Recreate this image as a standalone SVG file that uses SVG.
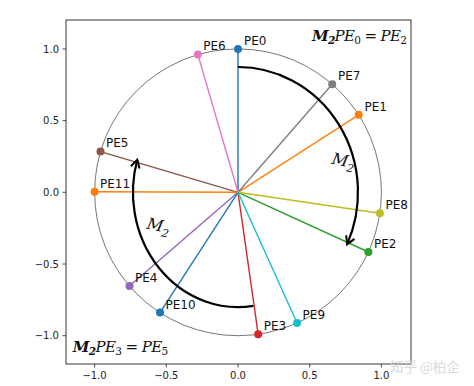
<svg xmlns="http://www.w3.org/2000/svg" width="474" height="386" viewBox="0 0 474 386">
<style>
.tick{font-family:"DejaVu Sans",sans-serif;font-size:10px;fill:#222}
.lbl{font-family:"DejaVu Sans",sans-serif;font-size:12px;fill:#111}
.spoke{stroke-width:1.4;fill:none}
.rot{stroke:#000;stroke-width:2.2;fill:none;marker-end:url(#arr)}
.math{font-family:"DejaVu Serif",serif;font-style:italic;fill:#111}
.tk{stroke:#222;stroke-width:0.8}
</style>
<defs>
<marker id="arr" viewBox="-10 -6 12 12" refX="0" refY="0" markerWidth="12" markerHeight="12" orient="auto" markerUnits="userSpaceOnUse">
<path d="M -8 -4.5 L 0 0 L -8 4.5" fill="none" stroke="#000" stroke-width="2"/>
</marker>
</defs>
<rect width="474" height="386" fill="#fff"/>
<g id="axes">
<rect x="66" y="20" width="345" height="344" fill="none" stroke="#222" stroke-width="0.9"/>
<g class="tk">
<line x1="62.5" y1="48.9" x2="66" y2="48.9"/><line x1="62.5" y1="120.6" x2="66" y2="120.6"/><line x1="62.5" y1="192.3" x2="66" y2="192.3"/><line x1="62.5" y1="264" x2="66" y2="264"/><line x1="62.5" y1="335.7" x2="66" y2="335.7"/>
<line x1="94.6" y1="364" x2="94.6" y2="367.5"/><line x1="166.3" y1="364" x2="166.3" y2="367.5"/><line x1="238" y1="364" x2="238" y2="367.5"/><line x1="309.7" y1="364" x2="309.7" y2="367.5"/><line x1="381.4" y1="364" x2="381.4" y2="367.5"/>
</g>
<g class="tick" text-anchor="end">
<text x="59" y="52.5">1.0</text><text x="59" y="124.2">0.5</text><text x="59" y="195.9">0.0</text><text x="59" y="267.6">−0.5</text><text x="59" y="339.3">−1.0</text>
</g>
<g class="tick" text-anchor="middle">
<text x="94.6" y="379">−1.0</text><text x="166.3" y="379">−0.5</text><text x="238" y="379">0.0</text><text x="309.7" y="379">0.5</text><text x="381.4" y="379">1.0</text>
</g>
</g>
<circle cx="238" cy="192.3" r="143.4" fill="none" stroke="#666" stroke-width="0.9"/>
<g id="connectors">
<line class="spoke" x1="238" y1="192.3" x2="238" y2="48.9" stroke="#1f77b4"/>
<line class="spoke" x1="238" y1="192.3" x2="358.7" y2="114.8" stroke="#ff7f0e"/>
<line class="spoke" x1="238" y1="192.3" x2="368.4" y2="252" stroke="#2ca02c"/>
<line class="spoke" x1="238" y1="192.3" x2="258.2" y2="334.3" stroke="#d62728"/>
<line class="spoke" x1="238" y1="192.3" x2="129.5" y2="286" stroke="#9467bd"/>
<line class="spoke" x1="238" y1="192.3" x2="100.5" y2="151.6" stroke="#8c564b"/>
<line class="spoke" x1="238" y1="192.3" x2="197.9" y2="54.6" stroke="#e377c2"/>
<line class="spoke" x1="238" y1="192.3" x2="332.2" y2="84.2" stroke="#7f7f7f"/>
<line class="spoke" x1="238" y1="192.3" x2="379.9" y2="213.2" stroke="#bcbd22"/>
<line class="spoke" x1="238" y1="192.3" x2="297.1" y2="323" stroke="#17becf"/>
<line class="spoke" x1="238" y1="192.3" x2="160" y2="312.6" stroke="#1f77b4"/>
<line class="spoke" x1="238" y1="192.3" x2="94.6" y2="191.7" stroke="#ff7f0e"/>
<path class="rot" d="M 238 67 A 120 125.3 0 0 1 347.1 244.4"/>
<path class="rot" d="M 253.3 305.8 A 105 114.7 0 0 1 137.3 159.7"/>
</g>
<g id="PE0"><circle cx="238" cy="48.9" r="4" fill="#1f77b4"/><text class="lbl" x="244" y="45">PE0</text></g>
<g id="PE1"><circle cx="358.7" cy="114.8" r="4" fill="#ff7f0e"/><text class="lbl" x="364.5" y="111">PE1</text></g>
<g id="PE2"><circle cx="368.4" cy="252" r="4" fill="#2ca02c"/><text class="lbl" x="374" y="248">PE2</text></g>
<g id="PE3"><circle cx="258.2" cy="334.3" r="4" fill="#d62728"/><text class="lbl" x="263.8" y="330.3">PE3</text></g>
<g id="PE4"><circle cx="129.5" cy="286" r="4" fill="#9467bd"/><text class="lbl" x="135" y="282">PE4</text></g>
<g id="PE5"><circle cx="100.5" cy="151.6" r="4" fill="#8c564b"/><text class="lbl" x="106" y="147.4">PE5</text></g>
<g id="PE6"><circle cx="197.9" cy="54.6" r="4" fill="#e377c2"/><text class="lbl" x="203.2" y="50.2">PE6</text></g>
<g id="PE7"><circle cx="332.2" cy="84.2" r="4" fill="#7f7f7f"/><text class="lbl" x="338" y="80.2">PE7</text></g>
<g id="PE8"><circle cx="379.9" cy="213.2" r="4" fill="#bcbd22"/><text class="lbl" x="385.5" y="209.2">PE8</text></g>
<g id="PE9"><circle cx="297.1" cy="323" r="4" fill="#17becf"/><text class="lbl" x="302.6" y="319">PE9</text></g>
<g id="PE10"><circle cx="160" cy="312.6" r="4" fill="#1f77b4"/><text class="lbl" x="165.5" y="308.6">PE10</text></g>
<g id="PE11"><circle cx="94.6" cy="191.7" r="4" fill="#ff7f0e"/><text class="lbl" x="100" y="187.7">PE11</text></g>
<g id="rot-labels">
<text class="math" font-size="16" transform="translate(331 163.5) rotate(12)">M<tspan font-size="11" dy="4.5">2</tspan></text>
<text class="math" font-size="16" transform="translate(146 228.5) rotate(12)">M<tspan font-size="11" dy="4.5">2</tspan></text>
</g>
<g id="equations">
<text class="math" font-size="15" x="312" y="40.7" textLength="95" lengthAdjust="spacing"><tspan font-weight="bold">M</tspan><tspan font-weight="bold" font-size="10.5" dy="3">2</tspan><tspan dy="-3">PE</tspan><tspan font-size="10.5" font-style="normal" dy="3">0</tspan><tspan dy="-3" font-style="normal"> = </tspan><tspan>PE</tspan><tspan font-size="10.5" font-style="normal" dy="3">2</tspan></text>
<text class="math" font-size="15" x="72.7" y="351.7" textLength="95.6" lengthAdjust="spacing"><tspan font-weight="bold">M</tspan><tspan font-weight="bold" font-size="10.5" dy="3">2</tspan><tspan dy="-3">PE</tspan><tspan font-size="10.5" font-style="normal" dy="3">3</tspan><tspan dy="-3" font-style="normal"> = </tspan><tspan>PE</tspan><tspan font-size="10.5" font-style="normal" dy="3">5</tspan></text>
</g>
<text x="390" y="372" font-family="'Noto Sans CJK SC',sans-serif" font-size="13.5" fill="#d4d4d4" opacity="0.85">知乎 @柏企</text>
</svg>
